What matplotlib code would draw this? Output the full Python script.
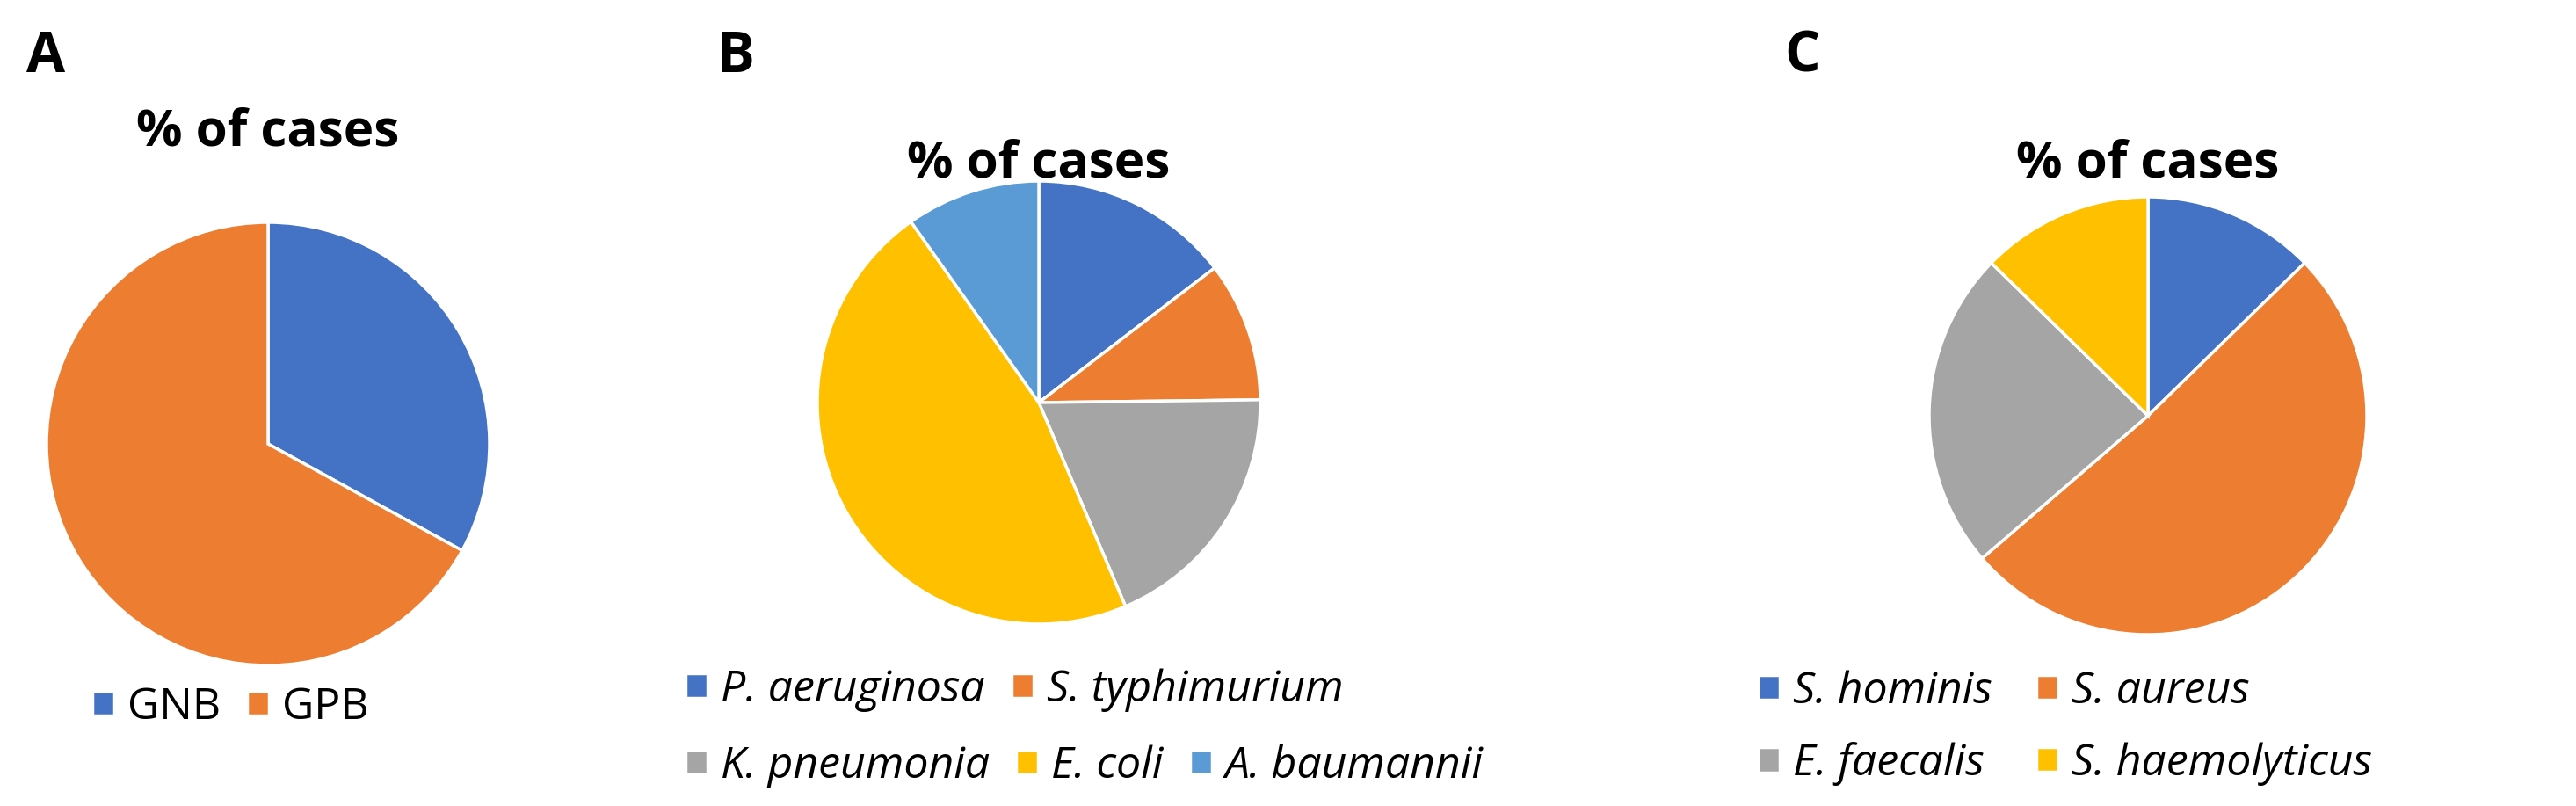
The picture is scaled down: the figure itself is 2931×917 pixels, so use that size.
import matplotlib.pyplot as plt

plt.rcParams['font.family'] = ['Open Sans', 'DejaVu Sans']

W, H = 2931, 917

# ---------- data ----------
labels_a = ["GNB", "GPB"]
values_a = [33, 67]
colors_a = ["#4472C4", "#ED7D31"]

labels_b = ["P. aeruginosa", "S. typhimurium", "K. pneumonia", "E. coli", "A. baumannii"]
values_b = [14.6, 10.2, 18.8, 46.6, 9.8]
colors_b = ["#4472C4", "#ED7D31", "#A5A5A5", "#FFC000", "#5B9BD5"]

labels_c = ["S. hominis", "S. aureus", "E. faecalis", "S. haemolyticus"]
values_c = [12.7, 51.0, 23.6, 12.7]
colors_c = ["#4472C4", "#ED7D31", "#A5A5A5", "#FFC000"]

fig = plt.figure(figsize=(W / 100, H / 100), dpi=100)


def pie_panel(cx, cy, r, values, colors, letter, lx, title_y):
    ax = fig.add_axes([(cx - r) / W, 1 - (cy + r) / H, 2 * r / W, 2 * r / H])
    wedges, _ = ax.pie(values, colors=colors, startangle=90, counterclock=False,
                       radius=1, wedgeprops=dict(edgecolor="white", linewidth=2.5))
    ax.set_xlim(-1, 1)
    ax.set_ylim(-1, 1)
    ax.axis("off")
    fig.text(cx / W, 1 - title_y / H, "% of cases", ha="center", va="center",
             fontsize=42, fontweight="bold")
    fig.text(lx / W, 1 - 65 / H, letter, ha="left", va="center",
             fontsize=46, fontweight="bold")
    return wedges


def add_legend(handles, labels, x, y, ncol, italic, colsp=0.6):
    leg = fig.legend(handles, labels, loc="center left", bbox_to_anchor=(x / W, 1 - y / H),
                     ncol=ncol, frameon=False, fontsize=36, handlelength=0.5,
                     handleheight=0.5, handletextpad=0.3, columnspacing=colsp,
                     labelspacing=0.65, borderaxespad=0, borderpad=0)
    if italic:
        for t in leg.get_texts():
            t.set_fontstyle("italic")
    return leg


wa = pie_panel(305, 505, 252, values_a, colors_a, "A", 30, 150)
add_legend(wa, labels_a, 105, 805, 2, False)

wb = pie_panel(1182, 458, 252, values_b, colors_b, "B", 815, 187)
add_legend(wb[:2], labels_b[:2], 780, 785, 2, True)
add_legend(wb[2:], labels_b[2:], 780, 872, 3, True)

wc = pie_panel(2444, 473, 249, values_c, colors_c, "C", 2030, 187)
order = [0, 2, 1, 3]
add_legend([wc[i] for i in order], [labels_c[i] for i in order], 2000, 828, 2, True,
           colsp=1.0)

fig.savefig("out.png", dpi=100)
